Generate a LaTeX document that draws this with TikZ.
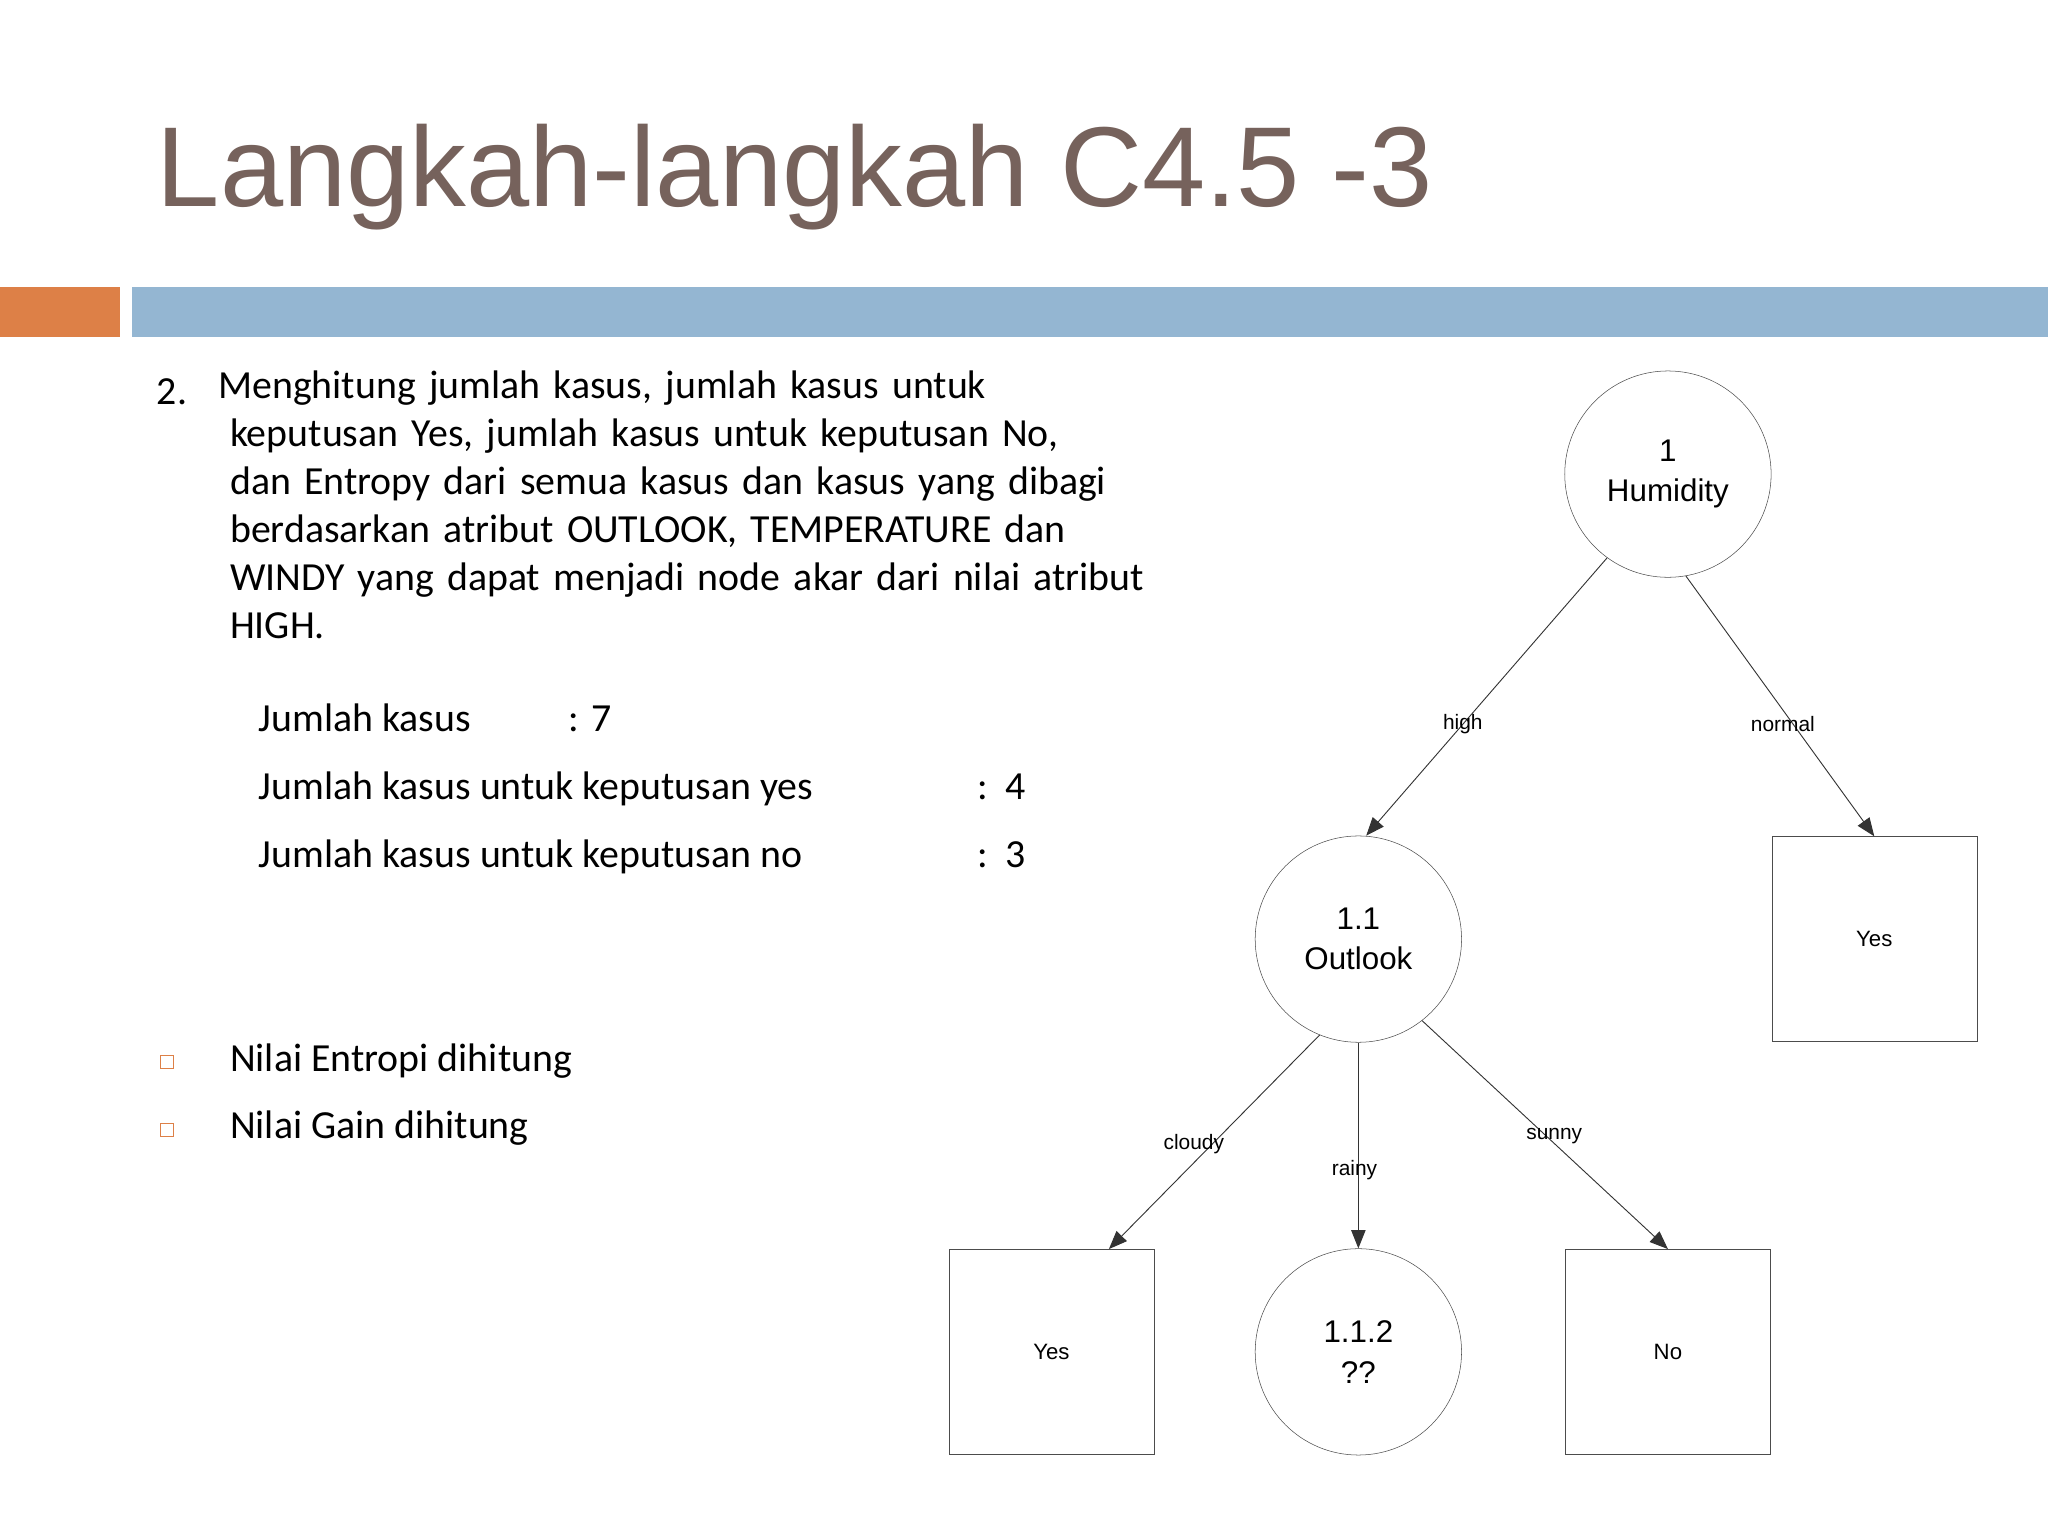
\documentclass[tikz,border=0pt]{standalone}
\usepackage{fontspec}
\setmainfont{Carlito}
\newfontfamily\arialf{Liberation Sans}
\usetikzlibrary{arrows.meta}
\definecolor{titlec}{HTML}{76625C}
\definecolor{orangec}{HTML}{DD8047}
\definecolor{bluec}{HTML}{94B6D2}
\begin{document}
\begin{tikzpicture}[x=1pt,y=-1pt,
  circ/.style={draw=black!70,circle,minimum size=158pt,inner sep=0pt,align=center,font=\arialf\fontsize{24}{31}\selectfont},
  leaf/.style={draw=black!70,rectangle,minimum size=157pt,inner sep=0pt,font=\arialf\fontsize{17}{20}\selectfont},
  edge/.style={draw=black!80,line width=0.7pt,-{Triangle[length=14pt,width=11pt]}},
  elab/.style={font=\arialf\fontsize{16}{18}\selectfont,inner sep=0pt},
  body/.style={anchor=base west,inner sep=0pt,font=\fontsize{30.5}{37}\selectfont}]
\useasboundingbox[fill=white] (0,0) rectangle (1568,1176);
\node[anchor=base west,inner sep=0pt,text=titlec,font=\arialf\fontsize{87}{95}\selectfont] (title) at (120,158) {Langkah-langkah C4.5 -3};
\fill[orangec] (0,220) rectangle (92,258);
\fill[bluec] (101,220) rectangle (1568,258);
\node[body] (num) at (120,310) {2.};
\node[anchor=north west,inner sep=0pt,text width=711pt,font=\fontsize{30.5}{36.7}\selectfont] (para) at (167,284)
 {\hyphenpenalty=10000\exhyphenpenalty=10000\hangindent=9pt\hangafter=1 Menghitung jumlah kasus, jumlah kasus untuk keputusan Yes, jumlah kasus untuk keputusan No, dan Entropy dari semua kasus dan kasus yang dibagi berdasarkan atribut OUTLOOK, TEMPERATURE dan WINDY yang dapat menjadi node akar dari nilai atribut HIGH.\par};
\node[body] (j1) at (198,560) {Jumlah kasus};
\node[body] (j1v) at (435,560) {: 7};
\node[body] (j2) at (198,612) {Jumlah kasus untuk keputusan yes};
\node[body] (j2v) at (748,612) {:\ \ 4};
\node[body] (j3) at (198,664) {Jumlah kasus untuk keputusan no};
\node[body] (j3v) at (748,664) {:\ \ 3};
\draw[orangec,line width=1pt] (123,808) rectangle (133,818);
\draw[orangec,line width=1pt] (123,860) rectangle (133,870);
\node[body] (b1) at (176,820) {Nilai Entropi dihitung};
\node[body] (b2) at (176,872) {Nilai Gain dihitung};
\node[circ] (h) at (1277,363) {1\\Humidity};
\node[circ] (o) at (1040,719) {1.1\\Outlook};
\node[circ] (q) at (1040,1035) {1.1.2\\??};
\node[leaf] (yr) at (1435,719) {Yes};
\node[leaf] (yl) at (805,1035) {Yes};
\node[leaf] (no) at (1277,1035) {No};
\draw[edge] (h.234) -- ([xshift=6pt]o.north);
\draw[edge] (h.280) -- (yr.north);
\draw[edge] (o.248) -- ([xshift=44pt]yl.north);
\draw[edge] (o.270) -- (q.north);
\draw[edge] (o.308) -- (no.north);
\node[elab] (lh) at (1120,554) {high};
\node[elab] (ln) at (1365,554) {normal};
\node[elab] (lc) at (914,876) {cloudy};
\node[elab] (lr) at (1037,896) {rainy};
\node[elab] (ls) at (1190,870) {sunny};
\end{tikzpicture}
\end{document}
